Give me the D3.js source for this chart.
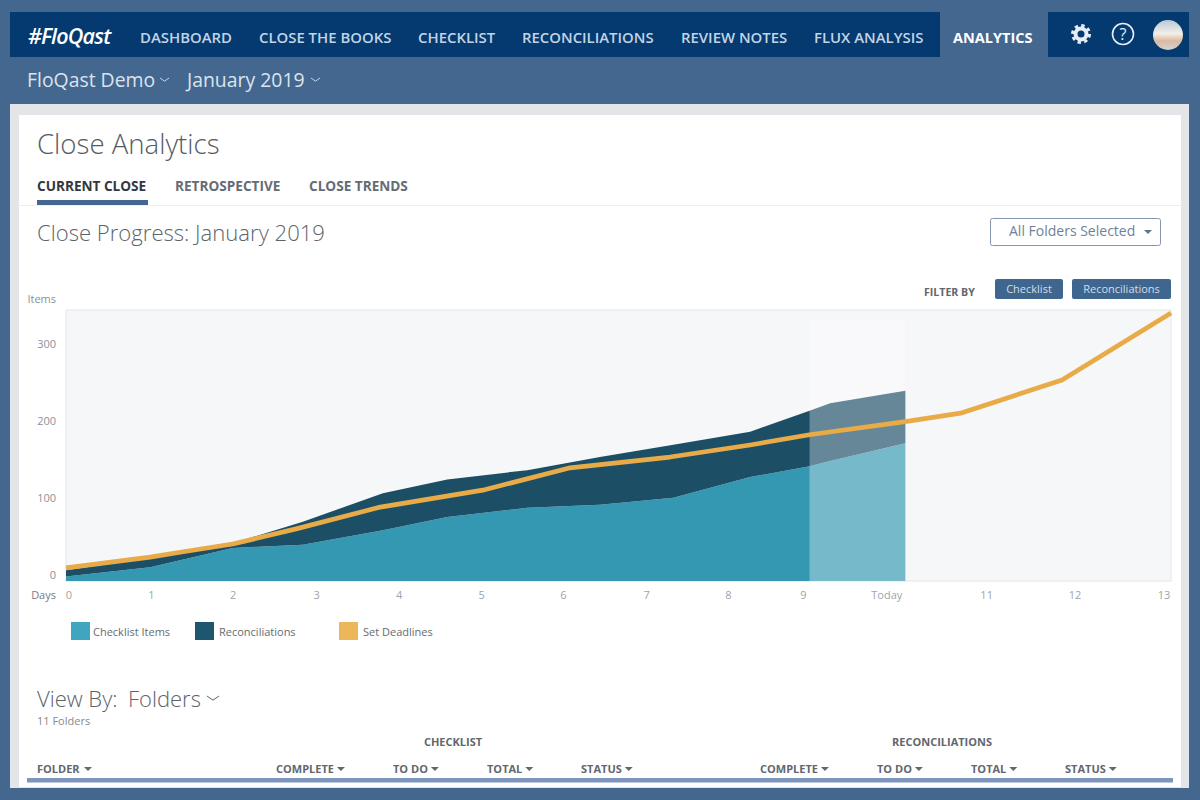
<!DOCTYPE html>
<html lang="en">
<head>
  <meta charset="UTF-8">
  <title>Close Analytics</title>
  <script src="https://d3js.org/d3.v7.min.js"></script>
  <style>
    html, body { margin: 0; background: #44678f; overflow: hidden; }
    svg { display: block; font-family: "Open Sans", sans-serif; }
  </style>
</head>
<body>
<svg id="page" width="1200" height="800"></svg>
<script>
  // values. days are on the chart's own running scale
  const areaDays = [0, 1.02, 2.02, 2.87, 3.84, 4.62, 5.59, 6.47, 7.36, 8.29, 9.01, 9.26, 10.17];
  const checklistItems = [6, 18, 43, 47, 66, 83, 95, 99, 108, 135, 149, 156, 179];
  const reconciliations = [8, 12, 6, 30, 48, 49, 49, 62, 69, 59, 72, 75, 68];

  const lineDays = [0, 1.02, 1.42, 2.02, 2.8, 3.81, 5.05, 6.11, 7.32, 8.31, 9.01, 10.17, 10.84, 12.07, 13.39];
  const setDeadlines = [17, 31, 38, 48, 68, 96, 118, 147, 161, 177, 190, 207, 218, 261, 348];

  const tickDays = [0.03, 1.03, 2.02, 3.03, 4.03, 5.03, 6.02, 7.03, 8.02, 8.93, 9.94, 11.15, 12.22, 13.3];
  const tickLabels = ["0", "1", "2", "3", "4", "5", "6", "7", "8", "9", "Today", "11", "12", "13"];
  const itemTicks = [0, 100, 200, 300];
  const todaySpan = [9.01, 10.17];

  const navItems = ["DASHBOARD", "CLOSE THE BOOKS", "CHECKLIST", "RECONCILIATIONS", "REVIEW NOTES", "FLUX ANALYSIS"];
  const navStarts = [140, 259, 418, 522, 681, 814];
  const tableColumns = ["COMPLETE", "TO DO", "TOTAL", "STATUS"];

  const svg = d3.select("#page");

  function label(x, y, text, size, color, weight, anchor) {
    return svg.append("text")
      .attr("x", x)
      .attr("y", y)
      .attr("font-size", size)
      .attr("fill", color)
      .attr("font-weight", weight || 400)
      .attr("text-anchor", anchor || "start")
      .text(text);
  }

  function box(x, y, w, h, fill) {
    return svg.append("rect").attr("x", x).attr("y", y).attr("width", w).attr("height", h).attr("fill", fill);
  }

  function chevron(x, y, size, color) {
    svg.append("path")
      .attr("d", `M${x},${y}l${size},${size * 0.7}l${size},${-size * 0.7}`)
      .attr("fill", "none")
      .attr("stroke", color)
      .attr("stroke-width", 1);
  }

  function caret(x, y, color) {
    svg.append("path")
      .attr("d", `M${x},${y}h8l-4,4z`)
      .attr("fill", color);
  }

  // top bar
  box(10, 12, 1179, 45, "#043a70");
  box(940, 12, 108, 45, "#44678f");
  label(28, 44, "#FloQast", 21.5, "#ffffff", 600).attr("font-style", "italic").attr("letter-spacing", -0.8);
  navItems.forEach((d, i) => label(navStarts[i], 43, d, 14.9, "#c3d3e4", 600));
  label(953, 43, "ANALYTICS", 14.5, "#ffffff", 700);

  // gear, help and avatar
  svg.append("circle").attr("cx", 1081).attr("cy", 34).attr("r", 5.5)
    .attr("fill", "none").attr("stroke", "#e6edf4").attr("stroke-width", 4);
  svg.append("circle").attr("cx", 1081).attr("cy", 34).attr("r", 8.5)
    .attr("fill", "none").attr("stroke", "#e6edf4").attr("stroke-width", 3).attr("stroke-dasharray", "3.4 3.27");
  svg.append("circle").attr("cx", 1123).attr("cy", 34).attr("r", 10.5)
    .attr("fill", "none").attr("stroke", "#e6edf4").attr("stroke-width", 1.6);
  label(1123, 40, "?", 16, "#e6edf4", 400, "middle");

  const avatar = svg.append("defs").append("linearGradient")
    .attr("id", "avatar").attr("x1", 0).attr("y1", 0).attr("x2", 0).attr("y2", 1);
  avatar.append("stop").attr("offset", "0%").attr("stop-color", "#b9c8d6");
  avatar.append("stop").attr("offset", "45%").attr("stop-color", "#f3efe9");
  avatar.append("stop").attr("offset", "70%").attr("stop-color", "#dcb9a0");
  avatar.append("stop").attr("offset", "100%").attr("stop-color", "#cfd3d6");
  svg.append("circle").attr("cx", 1168).attr("cy", 35).attr("r", 15).attr("fill", "url(#avatar)");

  // sub bar
  label(27, 87, "FloQast Demo", 19.4, "#dbe4ee");
  chevron(160, 78, 4.5, "#c3d3e4");
  label(187, 87, "January 2019", 19.4, "#dbe4ee");
  chevron(311, 78, 4.5, "#c3d3e4");

  // main panel
  box(10, 104, 1179, 684, "#e4e5e8");
  box(19, 115, 1162, 672, "#ffffff");

  label(37, 154, "Close Analytics", 27.6, "#555b62", 300);
  label(37, 191, "CURRENT CLOSE", 13.6, "#33383e", 700);
  label(175, 191, "RETROSPECTIVE", 13.6, "#666c73", 700);
  label(309, 191, "CLOSE TRENDS", 13.6, "#666c73", 700);
  box(19, 205, 1162, 1, "#eceef0");
  box(37, 200, 111, 5, "#44678f");
  label(37, 241, "Close Progress: January 2019", 22.1, "#5d6369", 300);

  // folder dropdown
  box(990.5, 218.5, 170, 27, "#ffffff").attr("stroke", "#8496ac").attr("rx", 2);
  label(1009, 236, "All Folders Selected", 14, "#6e8298");
  caret(1144, 230, "#5f748c");

  // filter buttons
  label(924, 296, "FILTER BY", 10.6, "#62676d", 700);
  box(995, 279, 68, 20, "#3f668f").attr("rx", 2);
  label(1029, 293, "Checklist", 11, "#d5dde8", 400, "middle");
  box(1072, 279, 99, 20, "#3f668f").attr("rx", 2);
  label(1121.5, 293, "Reconciliations", 11, "#d5dde8", 400, "middle");

  // chart
  const plot = { left: 66, right: 1171, top: 310, bottom: 581 };

  const x = d3.scaleLinear()
    .domain([0, 13.39])
    .range([plot.left, plot.right]);

  const y = d3.scaleLinear()
    .domain([0, 352])
    .range([plot.bottom, plot.top]);

  box(plot.left, plot.top, plot.right - plot.left, plot.bottom - plot.top, "#f6f7f9")
    .attr("stroke", "#e3e6e9");

  const rows = areaDays.map((day, i) => ({ day, checklist: checklistItems[i], recs: reconciliations[i] }));
  const stacked = d3.stack().keys(["checklist", "recs"])(rows);
  const areaColors = ["#3598b3", "#1c4f66"];

  const area = d3.area()
    .x(d => x(d.data.day))
    .y0(d => y(d[0]))
    .y1(d => y(d[1]));

  svg.append("g").selectAll("path")
    .data(stacked)
    .enter()
    .append("path")
    .attr("d", area)
    .attr("fill", (d, i) => areaColors[i]);

  // lighter wash over the current day
  box(x(todaySpan[0]), y(340), x(todaySpan[1]) - x(todaySpan[0]), y(0) - y(340), "#ffffff")
    .attr("opacity", 0.32);

  const line = d3.line()
    .x((d, i) => x(lineDays[i]))
    .y(d => y(d));

  svg.append("path")
    .datum(setDeadlines)
    .attr("d", line)
    .attr("fill", "none")
    .attr("stroke", "#e8ab47")
    .attr("stroke-width", 4.7)
    .attr("stroke-linejoin", "round");

  // axes, the labels sit a little above and below their real spot like in the app
  const yAxis = svg.append("g")
    .attr("transform", "translate(56,0)")
    .call(d3.axisLeft(y).tickValues(itemTicks).tickSize(0).tickPadding(0));
  yAxis.select(".domain").remove();
  yAxis.selectAll("text")
    .attr("dy", "-0.2em")
    .attr("font-family", "\"Open Sans\", sans-serif")
    .attr("font-size", 11)
    .attr("fill", "#8c9197");

  const xAxis = svg.append("g")
    .attr("transform", "translate(0,591)")
    .call(d3.axisBottom(x).tickValues(tickDays).tickFormat((d, i) => tickLabels[i]).tickSize(0).tickPadding(0));
  xAxis.select(".domain").remove();
  xAxis.selectAll("text")
    .attr("font-family", "\"Open Sans\", sans-serif")
    .attr("font-size", 11)
    .attr("fill", "#a0a4a9");

  label(56, 303, "Items", 11, "#8c9197", 400, "end");
  label(56, 599, "Days", 11, "#777c82", 400, "end");

  // legend
  box(71, 622, 19, 18, "#3fa5c0");
  label(93, 636, "Checklist Items", 11, "#666b71");
  box(195, 622, 19, 18, "#1f566f");
  label(219, 636, "Reconciliations", 11, "#666b71");
  box(339, 622, 19, 18, "#ecb65a");
  label(363, 636, "Set Deadlines", 11, "#666b71");

  // table header
  label(37, 707, "View By:", 22, "#5d6369", 300);
  label(128, 707, "Folders", 22, "#5d6369", 300);
  chevron(207, 696, 6, "#5d6369");
  label(37, 725, "11 Folders", 11, "#858a90");

  label(453, 746, "CHECKLIST", 11, "#62676d", 700, "middle");
  label(942, 746, "RECONCILIATIONS", 11, "#62676d", 700, "middle");

  label(37, 773, "FOLDER", 11, "#62676d", 700);
  caret(84, 767, "#62676d");

  const columnStarts = [[276, 393, 487, 581], [760, 877, 971, 1065]];
  columnStarts.forEach(starts => {
    tableColumns.forEach((name, i) => {
      const t = label(starts[i], 773, name, 11, "#62676d", 700);
      caret(starts[i] + t.node().getComputedTextLength() + 3, 767, "#62676d");
    });
  });

  box(27, 778, 1146, 4.5, "#7d95bb");
</script>
</body>
</html>
